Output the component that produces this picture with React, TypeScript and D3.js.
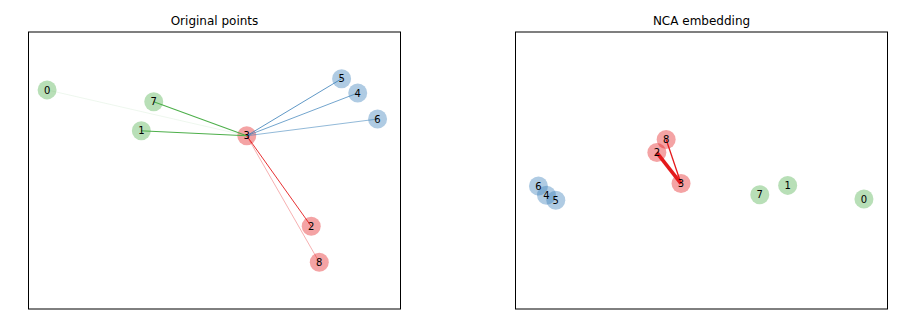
import React from "react";
import * as d3 from "d3";

// point labels and classes (0 = red, 1 = blue, 2 = green)
const labels = ["0", "1", "2", "3", "4", "5", "6", "7", "8"];
const classes = [2, 2, 0, 0, 1, 1, 1, 2, 0];

// Original points
const origX = [-2.70, -1.18, 1.56, 0.52, 2.31, 2.05, 2.63, -0.98, 1.69];
const origY = [1.30, 0.64, -0.90, 0.56, 1.25, 1.48, 0.83, 1.11, -1.48];
// NCA embedding
const ncaX = [2.62, 1.39, -0.72, -0.33, -2.50, -2.35, -2.63, 0.94, -0.57];
const ncaY = [-0.46, -0.24, 0.29, -0.21, -0.40, -0.48, -0.25, -0.39, 0.50];

// line weights from point 3 to every point
const origWeights = [0.02, 0.2, 0.18, 0, 0.14, 0.16, 0.11, 0.21, 0.07];
const ncaWeights = [0, 0, 0.72, 0, 0, 0, 0, 0, 0.26];

const focus = 3;
const palette = ["#e41a1c", "#377eb8", "#4daf4a"];

const W = 904;
const H = 332;

type PanelProps = {
  title: string;
  xs: number[];
  ys: number[];
  weights: number[];
  left: number;
  right: number;
};

function Panel({ title, xs, ys, weights, left, right }: PanelProps) {
  const top = 32;
  const bottom = 309;
  const pxPerUnit = (right - left) / 6;
  const halfY = (bottom - top) / 2 / pxPerUnit;
  const x = d3.scaleLinear().domain([-3, 3]).range([left, right]);
  const y = d3.scaleLinear().domain([-halfY, halfY]).range([bottom, top]);
  const line = d3.line<[number, number]>().x((d) => x(d[0])).y((d) => y(d[1]));
  return (
    <g>
      <text
        x={(left + right) / 2}
        y={25}
        textAnchor="middle"
        fontFamily="DejaVu Sans"
        fontSize={12}
        fill="#000"
      >
        {title}
      </text>
      {xs.map((_, i) => (
        <circle
          key={"c" + i}
          cx={x(xs[i])}
          cy={y(ys[i])}
          r={9.5}
          fill={palette[classes[i]]}
          fillOpacity={0.4}
        />
      ))}
      {xs.map((_, j) =>
        j === focus || weights[j] <= 0 ? null : (
          <path
            key={"l" + j}
            d={line([
              [xs[focus], ys[focus]],
              [xs[j], ys[j]],
            ]) as string}
            stroke={palette[classes[j]]}
            strokeWidth={5 * weights[j]}
            fill="none"
          />
        )
      )}
      {xs.map((_, i) => (
        <text
          key={"t" + i}
          x={x(xs[i])}
          y={y(ys[i])}
          dy="0.36em"
          textAnchor="middle"
          fontFamily="DejaVu Sans"
          fontSize={10}
          fill="#000"
        >
          {labels[i]}
        </text>
      ))}
      <rect
        x={left}
        y={top}
        width={right - left}
        height={bottom - top}
        fill="none"
        stroke="#000"
        strokeWidth={1}
      />
    </g>
  );
}

export default function App() {
  return (
    <svg
      width={W}
      height={H}
      style={{ position: "absolute", left: 0, top: 0, background: "#fff" }}
    >
      <rect width={W} height={H} fill="#fff" />
      <Panel title="Original points" xs={origX} ys={origY} weights={origWeights} left={28.5} right={400.5} />
      <Panel title="NCA embedding" xs={ncaX} ys={ncaY} weights={ncaWeights} left={515.5} right={887.5} />
    </svg>
  );
}
